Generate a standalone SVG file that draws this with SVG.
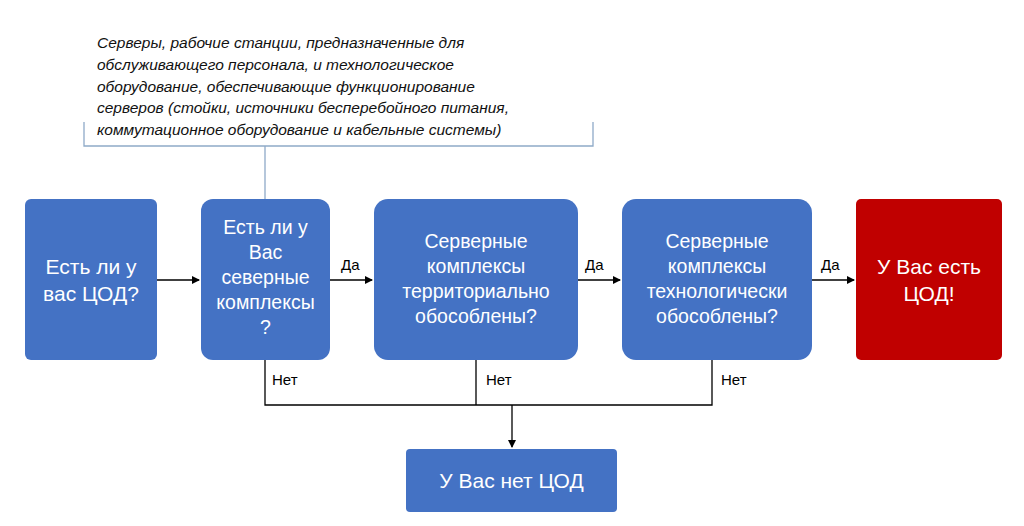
<svg xmlns="http://www.w3.org/2000/svg" width="1024" height="526" viewBox="0 0 1024 526">
<defs>
<marker id="ah" markerWidth="8" markerHeight="8" refX="7" refY="4" orient="auto" markerUnits="userSpaceOnUse"><path d="M0,0 L8,4 L0,8 z" fill="#000"/></marker>
<style>
.b{fill:#4472C4}
.t{font-family:"Liberation Sans",Arial,sans-serif;fill:#fff;text-anchor:middle}
.l{font-family:"Liberation Sans",Arial,sans-serif;font-size:15px;fill:#000}
.c{stroke:#000;stroke-width:1.3;fill:none}
</style>
</defs>
<rect width="1024" height="526" fill="#fff"/>
<g id="note">
<path d="M84,122 V146 H593 V122 M265,146 V199" fill="none" stroke="#8FAAC8" stroke-width="1.3"/>
<text font-family="Liberation Sans,Arial,sans-serif" font-style="italic" font-size="15.5" fill="#111">
<tspan x="97" y="48">Серверы, рабочие станции, предназначенные для</tspan>
<tspan x="97" y="70">обслуживающего персонала, и технологическое</tspan>
<tspan x="97" y="92">оборудование, обеспечивающие функционирование</tspan>
<tspan x="97" y="113">серверов (стойки, источники бесперебойного питания,</tspan>
<tspan x="97" y="135">коммутационное оборудование и кабельные системы)</tspan>
</text>
</g>
<g id="connectors">
<path class="c" d="M157,280 H199" marker-end="url(#ah)"/>
<path class="c" d="M330,280 H372" marker-end="url(#ah)"/>
<path class="c" d="M578,280 H620" marker-end="url(#ah)"/>
<path class="c" d="M812,280 H854" marker-end="url(#ah)"/>
<path class="c" d="M265,360 V405 H712 V360 M476,360 V405"/>
<path class="c" d="M512,405 V447" marker-end="url(#ah)"/>
<text class="l" x="341" y="270">Да</text>
<text class="l" x="585" y="270">Да</text>
<text class="l" x="821" y="270">Да</text>
<text class="l" x="272" y="385">Нет</text>
<text class="l" x="486" y="385">Нет</text>
<text class="l" x="721" y="385">Нет</text>
</g>
<g id="n1"><rect class="b" x="25" y="199" width="132" height="161" rx="6"/>
<text class="t" font-size="21"><tspan x="91" y="274">Есть ли у</tspan><tspan x="91" y="301">вас ЦОД?</tspan></text></g>
<g id="n2"><rect class="b" x="201" y="199" width="129" height="161" rx="12"/>
<text class="t" font-size="19.5"><tspan x="265.5" y="234">Есть ли у</tspan><tspan x="265.5" y="259">Вас</tspan><tspan x="265.5" y="284">северные</tspan><tspan x="265.5" y="309">комплексы</tspan><tspan x="265.5" y="334">?</tspan></text></g>
<g id="n3"><rect class="b" x="374" y="199" width="204" height="161" rx="14"/>
<text class="t" font-size="19.5"><tspan x="476" y="248">Серверные</tspan><tspan x="476" y="273">комплексы</tspan><tspan x="476" y="298">территориально</tspan><tspan x="476" y="323">обособлены?</tspan></text></g>
<g id="n4"><rect class="b" x="622" y="199" width="190" height="161" rx="14"/>
<text class="t" font-size="19.5"><tspan x="717" y="248">Серверные</tspan><tspan x="717" y="273">комплексы</tspan><tspan x="717" y="298">технологически</tspan><tspan x="717" y="323">обособлены?</tspan></text></g>
<g id="n5"><rect x="856" y="199" width="146" height="161" rx="5" fill="#C00000"/>
<text class="t" font-size="21"><tspan x="929" y="274">У Вас есть</tspan><tspan x="929" y="301">ЦОД!</tspan></text></g>
<g id="n6"><rect class="b" x="406" y="449" width="211" height="63" rx="4"/>
<text class="t" font-size="21" x="511.5" y="488">У Вас нет ЦОД</text></g>
</svg>
